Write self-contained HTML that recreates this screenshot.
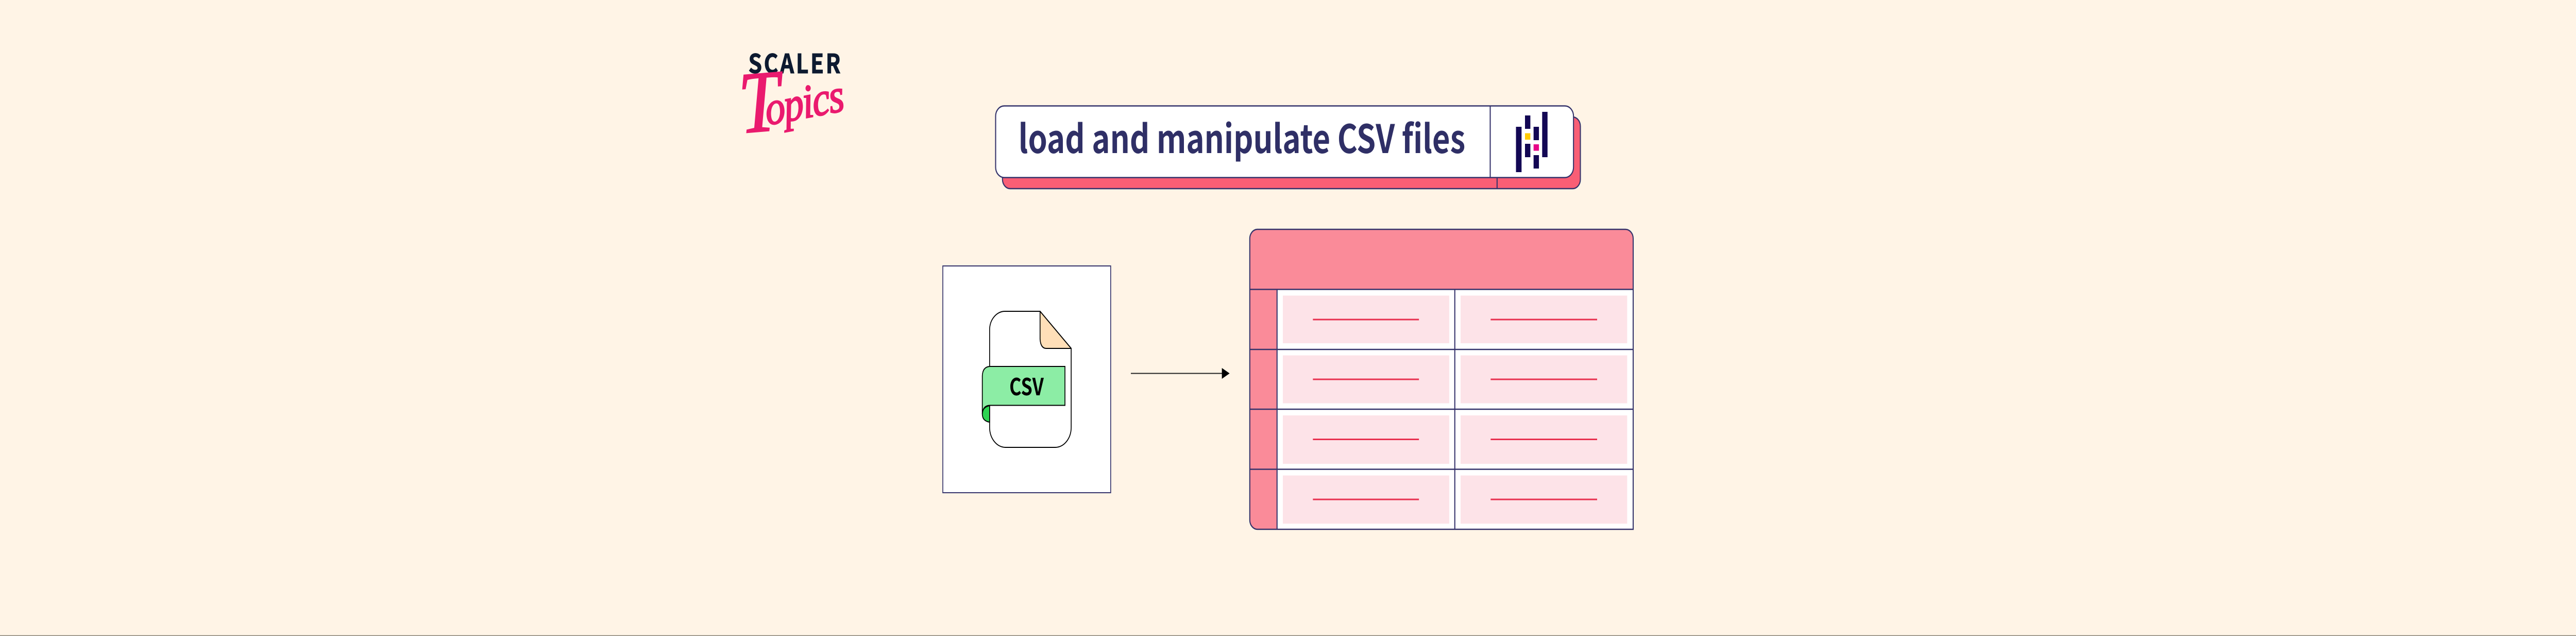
<!DOCTYPE html>
<html lang="en">
<head>
<meta charset="utf-8">
<title>load and manipulate CSV files</title>
<style>
html,body{margin:0;padding:0;background:#fff4e6;width:100%;height:100%;overflow:hidden}
svg{display:block;position:absolute;left:0;top:0;width:100%;height:100%}
</style>
</head>
<body>
<svg xmlns="http://www.w3.org/2000/svg" viewBox="0 0 6000 1234" preserveAspectRatio="none">
  <rect width="6000" height="1234" fill="#fff4e6"/>
  <rect x="0" y="1232.5" width="6000" height="1.5" fill="#8a8478"/>

  <!-- Logo -->
  <text x="1743" y="142" font-family="'Noto Sans CJK SC','Liberation Sans',sans-serif" font-weight="700" font-size="51" fill="#0d1a30" textLength="215" lengthAdjust="spacing" stroke="#0d1a30" stroke-width="1">SCALER</text>
  <g fill="#ea1a6e" stroke="#ea1a6e" stroke-width="2.5" font-family="'Liberation Serif',serif" font-style="italic">
    <text transform="translate(1725 258) rotate(-4)" font-size="170" x="0" y="0">T</text>
    <text transform="translate(1787 243) rotate(-9)" font-size="92" x="0" y="0" textLength="185" lengthAdjust="spacing">opics</text>
  </g>

  <!-- Title box -->
  <rect x="2335" y="227" width="1346" height="139" rx="18" fill="#f95e75" stroke="#35336b" stroke-width="2.5"/>
  <line x1="3487" y1="345" x2="3487" y2="366" stroke="#35336b" stroke-width="2.5"/>
  <rect x="2319" y="205.5" width="1346" height="139" rx="20" fill="#fff" stroke="#35336b" stroke-width="2.5"/>
  <line x1="3471" y1="205.5" x2="3471" y2="344.5" stroke="#35336b" stroke-width="2.5"/>
  <text x="2372" y="297" font-family="'Noto Sans CJK SC','Liberation Sans',sans-serif" font-weight="700" font-size="76" fill="#2f2f66" textLength="1041" lengthAdjust="spacingAndGlyphs">load and manipulate CSV files</text>

  <!-- pandas icon -->
  <g fill="#130754">
    <rect x="3531" y="246" width="13" height="88"/>
    <rect x="3552" y="224" width="12.5" height="26"/>
    <rect x="3552" y="279" width="12.5" height="26"/>
    <rect x="3572" y="246" width="12.5" height="26"/>
    <rect x="3572" y="301" width="12.5" height="26"/>
    <rect x="3592" y="217" width="12.5" height="88"/>
  </g>
  <rect x="3552" y="258.5" width="12.5" height="12.5" fill="#ffca00"/>
  <rect x="3572" y="280" width="12.5" height="12.5" fill="#e70488"/>

  <!-- CSV panel -->
  <rect x="2196" y="516" width="391" height="440" fill="#fff" stroke="#35336b" stroke-width="2"/>
  <path d="M2341 604H2422.5L2495 676V829A37 39 0 0 1 2458 868H2342A37 39 0 0 1 2305 829V640A36 36 0 0 1 2341 604Z" fill="#fff" stroke="#000" stroke-width="2"/>
  <path d="M2422.5 604V658Q2424 676 2437 676H2495Z" fill="#ffdfb8" stroke="#000" stroke-width="2" stroke-linejoin="round"/>
  <path d="M2305 787Q2288 790 2288 803Q2288 817 2305 819Z" fill="#2dd452" stroke="#000" stroke-width="2"/>
  <path d="M2305 711H2480.5V786.5H2305Q2289 787 2288 804V729Q2289 712 2305 711Z" fill="#8ceda5" stroke="#000" stroke-width="2"/>
  <text x="2391" y="767" text-anchor="middle" font-family="'Noto Sans CJK SC','Liberation Sans',sans-serif" font-weight="700" font-size="46" fill="#000" textLength="80" lengthAdjust="spacingAndGlyphs">CSV</text>

  <!-- Arrow -->
  <line x1="2634" y1="724.5" x2="2848" y2="724.5" stroke="#222" stroke-width="2"/>
  <path d="M2846 714L2864 724.5L2846 735Z" fill="#000"/>

  <!-- Table -->
  <path d="M2928 445H3786A18 18 0 0 1 3804 463V1027H2929A18 18 0 0 1 2911 1009V463A18 18 0 0 1 2928 445Z" fill="#fff"/>
  <path d="M2928 445H3786A18 18 0 0 1 3804 463V561.500H2974.500V1027H2929A18 18 0 0 1 2911 1009V463A18 18 0 0 1 2928 445Z" fill="#fa8b99"/>
  <g fill="#fde3e8">
    <rect x="2988" y="573.500" width="387.500" height="92.500"/>
    <rect x="3402" y="573.500" width="388" height="92.500"/>
    <rect x="2988" y="689.500" width="387.500" height="93"/>
    <rect x="3402" y="689.500" width="388" height="93"/>
    <rect x="2988" y="806" width="387.500" height="94"/>
    <rect x="3402" y="806" width="388" height="94"/>
    <rect x="2988" y="922.500" width="387.500" height="93.500"/>
    <rect x="3402" y="922.500" width="388" height="93.500"/>
  </g>
  <g stroke="#e8304f" stroke-width="3">
    <line x1="3058" y1="620" x2="3305" y2="620"/>
    <line x1="3472" y1="620" x2="3720" y2="620"/>
    <line x1="3058" y1="736" x2="3305" y2="736"/>
    <line x1="3472" y1="736" x2="3720" y2="736"/>
    <line x1="3058" y1="852.500" x2="3305" y2="852.500"/>
    <line x1="3472" y1="852.500" x2="3720" y2="852.500"/>
    <line x1="3058" y1="969" x2="3305" y2="969"/>
    <line x1="3472" y1="969" x2="3720" y2="969"/>
  </g>
  <g stroke="#35336b" stroke-width="2.500" fill="none">
    <path d="M2928 445H3786A18 18 0 0 1 3804 463V1027H2929A18 18 0 0 1 2911 1009V463A18 18 0 0 1 2928 445Z"/>
    <line x1="2911" y1="561.500" x2="3804" y2="561.500"/>
    <line x1="2911" y1="678" x2="3804" y2="678"/>
    <line x1="2911" y1="794" x2="3804" y2="794"/>
    <line x1="2911" y1="910.500" x2="3804" y2="910.500"/>
    <line x1="2974.500" y1="561.500" x2="2974.500" y2="1027"/>
    <line x1="3388.500" y1="561.500" x2="3388.500" y2="1027"/>
  </g>
</svg>
</body>
</html>
